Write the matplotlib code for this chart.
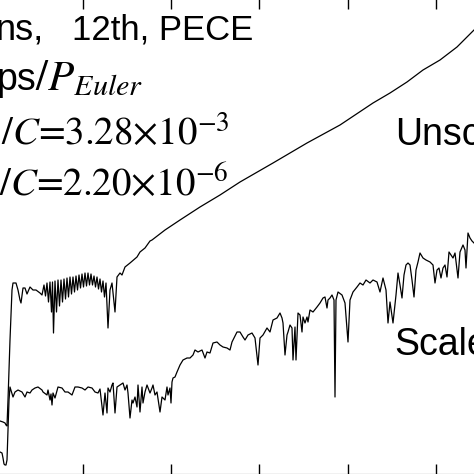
import numpy as np
import matplotlib
matplotlib.use('Agg')
import matplotlib.pyplot as plt

plt.rcParams['mathtext.fontset'] = 'stix'

# curve samples, x in image columns, y in rows from the top
unscaled_x = [0, 3, 5, 6, 7, 8, 10, 12, 13, 16, 18, 20, 21, 23, 25, 27, 30, 33, 36, 40, 42,
              44, 45.5, 47, 48.5, 50, 51.5, 52.5, 53.5, 55, 56.5, 58, 59.5, 61, 62.5, 64, 65.5,
              67, 68.5, 70, 71.5, 73, 74.5, 76, 77.5, 79, 80.5, 82, 83.5, 85, 86.5, 88, 89.5,
              91, 92.5, 94, 95.5, 97, 98.5, 100, 101.5, 103, 104.5, 106, 107, 108,
              110, 112, 115, 117, 120, 122, 125, 130, 137, 140, 145, 150, 152, 165, 180, 200,
              220, 240, 273, 307, 340, 373, 390, 407, 423, 440, 457, 474]
unscaled_row = [421, 422, 423, 425, 426, 400, 340, 290, 283, 283, 290, 300, 303, 288, 288, 294, 287, 290, 290, 293, 295,
                285, 296, 283, 302, 282, 312, 282, 333, 281, 312, 280, 306, 280, 302, 279, 299,
                278, 297, 277, 294, 277, 292, 276, 290, 275, 288, 274, 287, 273, 286, 273, 285,
                274, 285, 276, 287, 277, 289, 279, 292, 281, 297, 283, 305, 328,
                290, 283, 312, 277, 273, 275, 267, 263, 257, 252, 248, 241, 240, 230, 220, 207,
                195, 182, 163, 143, 125, 103, 93, 82, 70, 60, 47, 30]

scaled_x = [0, 2, 3, 4, 5, 6, 7, 8, 9, 10, 13, 15, 18, 22, 25, 27, 30, 32, 35, 38, 42, 43, 47, 48,
            50, 51, 52, 53, 55, 58, 62, 65, 68, 72, 75, 78, 82, 85, 88, 92, 95, 98, 100, 102, 103,
            105, 107, 108, 110, 112, 113, 115, 117, 120, 123, 125, 127, 128, 130, 132, 133, 135,
            137, 138, 140, 142, 143, 145, 147, 150, 152, 153, 155, 157, 160, 162, 165, 167, 168,
            170, 171, 172, 173, 175, 177, 180, 183, 187, 190, 193, 195, 198, 202, 205, 207, 210,
            213, 217, 220, 223, 227, 230, 232, 237, 240, 243, 245, 248, 252, 255, 258, 260, 263,
            267, 270, 273, 277, 280, 282, 283, 285, 287, 288, 290, 292, 293, 295, 296, 298, 300,
            302, 303, 305, 307, 308, 310, 313, 317, 320, 323, 325, 327, 328, 330, 332, 334, 335,
            336, 338, 342, 345, 348, 350, 353, 357, 360, 363, 366, 370, 373, 377, 380, 383, 386,
            388, 390, 393, 396, 398, 400, 402, 404, 406, 408, 410, 412, 414, 416, 418, 420, 423,
            426, 430, 433, 435, 437, 439, 441, 443, 445, 447, 449, 451, 453, 455, 457, 458, 460,
            463, 465, 466, 468, 470, 472, 474]
scaled_row = [452, 453, 458, 464, 465, 465, 460, 430, 400, 387, 397, 392, 390, 392, 397, 392, 393, 390, 388, 387, 390, 392, 395, 390,
              400, 394, 405, 393, 398, 387, 388, 392, 392, 395, 387, 387, 388, 390, 387, 388, 392, 393, 389, 407, 415,
              393, 413, 388, 392, 385, 383, 413, 387, 385, 383, 390, 385, 393, 418, 400, 403, 397,
              407, 385, 412, 387, 403, 392, 385, 393, 388, 385, 395, 392, 412, 397, 400, 387, 395,
              388, 403, 382, 378, 377, 372, 365, 360, 358, 358, 355, 350, 352, 350, 358, 352, 353,
              343, 342, 345, 347, 348, 350, 342, 332, 332, 337, 340, 335, 333, 338, 365, 338, 335,
              328, 332, 320, 318, 313, 318, 323, 355, 335, 332, 325, 328, 360, 327, 360, 313, 315,
              332, 317, 323, 317, 322, 310, 312, 307, 303, 298, 297, 308, 300, 298, 295, 300, 397,
              300, 292, 295, 303, 342, 300, 292, 287, 283, 285, 280, 283, 280, 282, 292, 278, 290,
              323, 302, 323, 295, 273, 285, 298, 275, 265, 263, 265, 280, 297, 270, 262, 253, 258,
              260, 262, 265, 283, 270, 268, 278, 268, 265, 277, 252, 255, 258, 253, 270, 278, 252,
              245, 250, 268, 233, 238, 241, 243]

tick_pos = [83, 171, 259, 348, 436]

H = 474
fig = plt.figure(figsize=(4.74, 4.74), dpi=100)
ax = fig.add_axes([-0.02, 0, 1.04, 1.003])
ax.set_xlim(-0.02 * H, 1.02 * H)
ax.set_ylim(0, 1.003 * H)

ax.plot(unscaled_x, H - np.array(unscaled_row), color='black', lw=0.9)
ax.plot(scaled_x, H - np.array(scaled_row), color='black', lw=0.9)

ax.set_xticks(tick_pos)
ax.set_yticks([])
ax.tick_params(axis='x', direction='in', top=True, length=7, width=1,
               labelbottom=False, labeltop=False)

sans = 'Liberation Sans'
serif = 'STIXGeneral'
ax.text(-4, H - 39, 'ns,', family=sans, fontsize=26, va='baseline')
ax.text(72, H - 39, '12th, PECE', family=sans, fontsize=25, va='baseline')
ax.text(-3, H - 90, 'ps', family=sans, fontsize=27, va='baseline')
ax.text(35, H - 90, r'$/P_{Euler}$', fontsize=31, va='baseline')
ax.text(1, H - 145, r'$/C$=3.28×$10^{-3}$', family=serif, fontsize=28, va='baseline')
ax.text(-1, H - 195, r'$/C$=2.20×$10^{-6}$', family=serif, fontsize=28, va='baseline')
ax.text(395, H - 145, 'Unscaled', family=sans, fontsize=27, va='baseline')
ax.text(394, H - 355, 'Scaled', family=sans, fontsize=27, va='baseline')

plt.savefig('out.png', dpi=100)
